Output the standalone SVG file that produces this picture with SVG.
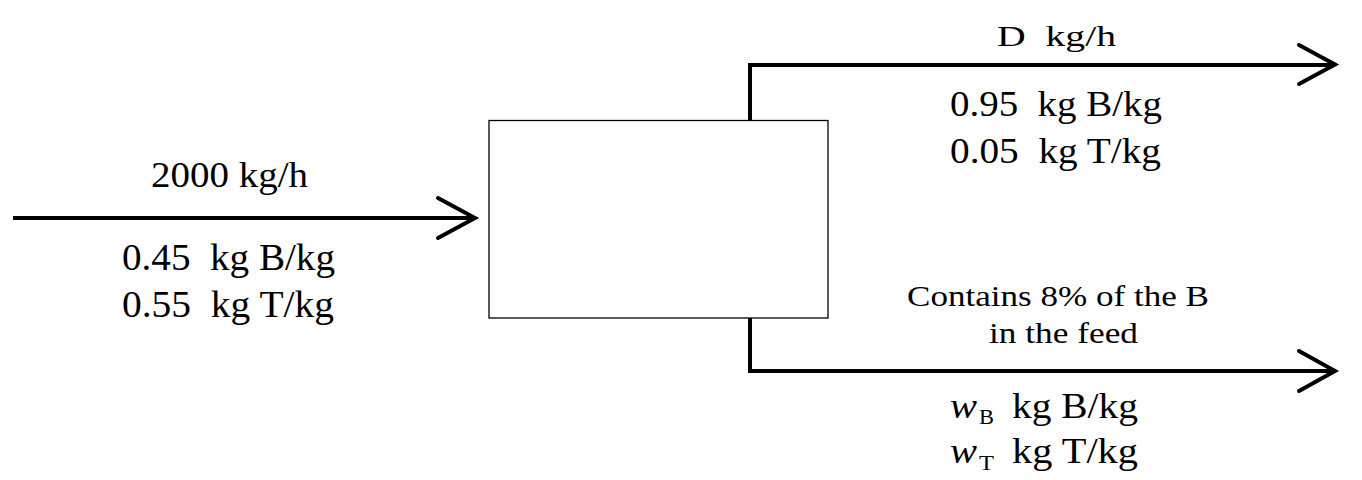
<svg xmlns="http://www.w3.org/2000/svg" width="1362" height="480" viewBox="0 0 1362 480">
<style>
.ln{fill:none;stroke:#000;stroke-width:4;stroke-linecap:butt;stroke-linejoin:miter}
.hd{fill:none;stroke:#000;stroke-width:4;stroke-linecap:round;stroke-linejoin:miter}
.box{fill:#fff;stroke:#000;stroke-width:1.3}
.t{font-family:"Liberation Serif","Times New Roman",serif;fill:#000}
.it{font-style:italic}
</style>
<rect width="1362" height="480" fill="#fff"/>
<g id="connectors">
<path class="ln" d="M13,218 H472"/>
<path class="hd" d="M438,198 L475,218 L438,238"/>
<path class="ln" d="M750,120 V65 H1332"/>
<path class="hd" d="M1299,45 L1335,64.5 L1299,84"/>
<path class="ln" d="M750,318 V371 H1332"/>
<path class="hd" d="M1299,351 L1335,371 L1299,391"/>
</g>
<g id="unit">
<rect class="box" x="489" y="120.5" width="339" height="197.5"/>
</g>
<g id="feed">
<text class="t" x="151" y="187" font-size="35" textLength="157" lengthAdjust="spacingAndGlyphs">2000 kg/h</text>
<text class="t" x="122" y="270" font-size="37" textLength="213" lengthAdjust="spacingAndGlyphs" xml:space="preserve">0.45  kg B/kg</text>
<text class="t" x="122" y="316.5" font-size="37" textLength="212" lengthAdjust="spacingAndGlyphs" xml:space="preserve">0.55  kg T/kg</text>
</g>
<g id="distillate">
<text class="t" x="997" y="46" font-size="30" textLength="119" lengthAdjust="spacingAndGlyphs" xml:space="preserve">D  kg/h</text>
<text class="t" x="950" y="116" font-size="36" textLength="212" lengthAdjust="spacingAndGlyphs" xml:space="preserve">0.95  kg B/kg</text>
<text class="t" x="950" y="162.5" font-size="36" textLength="211" lengthAdjust="spacingAndGlyphs" xml:space="preserve">0.05  kg T/kg</text>
</g>
<g id="bottoms">
<text class="t" x="907" y="306" font-size="30" textLength="302" lengthAdjust="spacingAndGlyphs">Contains 8% of the B</text>
<text class="t" x="989" y="342.5" font-size="30" textLength="149" lengthAdjust="spacingAndGlyphs">in the feed</text>
<text class="t it" x="950" y="418" font-size="35" textLength="27" lengthAdjust="spacingAndGlyphs">w</text>
<text class="t" x="979" y="424" font-size="22" textLength="15" lengthAdjust="spacingAndGlyphs">B</text>
<text class="t" x="1012" y="418" font-size="36" textLength="126" lengthAdjust="spacingAndGlyphs">kg B/kg</text>
<text class="t it" x="950" y="463" font-size="35" textLength="27" lengthAdjust="spacingAndGlyphs">w</text>
<text class="t" x="979" y="469.5" font-size="22" textLength="15" lengthAdjust="spacingAndGlyphs">T</text>
<text class="t" x="1012" y="463" font-size="36" textLength="126" lengthAdjust="spacingAndGlyphs">kg T/kg</text>
</g>
</svg>
